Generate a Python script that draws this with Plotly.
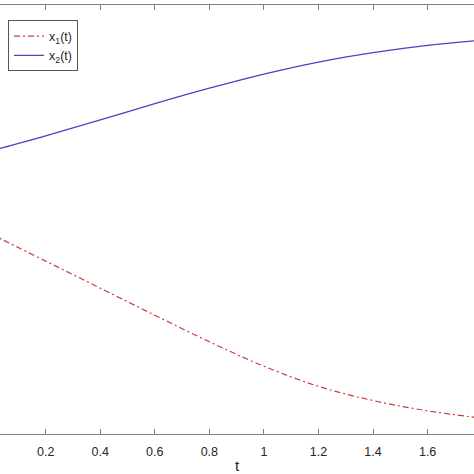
import plotly.graph_objects as go

t = [0.0, 0.2, 0.4, 0.6, 0.8, 1.0, 1.2, 1.4, 1.6, 1.8]
x1 = [0.466, 0.403, 0.340, 0.277, 0.215, 0.158, 0.111, 0.078, 0.054, 0.037]
x2 = [0.660, 0.695, 0.732, 0.770, 0.806, 0.839, 0.867, 0.889, 0.906, 0.918]
xticks = [0.2, 0.4, 0.6, 0.8, 1.0, 1.2, 1.4, 1.6]
xticklabels = ["0.2", "0.4", "0.6", "0.8", "1", "1.2", "1.4", "1.6"]

fig = go.Figure()
fig.add_trace(go.Scatter(x=t, y=x1, mode="lines", name="x<sub>1</sub>(t)",
                         line=dict(color="#cc3b3b", width=1.2, dash="6px,3px,2px,3px",
                                   shape="spline", smoothing=1.0)))
fig.add_trace(go.Scatter(x=t, y=x2, mode="lines", name="x<sub>2</sub>(t)",
                         line=dict(color="#4646c4", width=1.3, shape="spline", smoothing=1.0)))

fig.update_layout(
    width=474, height=474,
    margin=dict(l=0, r=0, t=5, b=40),
    paper_bgcolor="white", plot_bgcolor="white",
    font=dict(family="Liberation Sans, Arial, sans-serif", size=12, color="#262626"),
    showlegend=True,
    legend=dict(x=0.017, y=0.964, xanchor="left", yanchor="top",
                bordercolor="#555555", borderwidth=1, bgcolor="white",
                font=dict(size=12.5), tracegroupgap=0, itemwidth=30),
    xaxis=dict(range=[0.0326, 1.770], tickvals=xticks, ticktext=xticklabels,
               showgrid=False, zeroline=False, showline=True, linecolor="#808080",
               linewidth=1, mirror="ticks", ticks="inside", ticklen=5, tickcolor="#808080",
               ticklabelstandoff=6, tickfont=dict(size=12.5),
               title=dict(text="t", font=dict(size=15), standoff=2)),
    yaxis=dict(range=[0, 1], showgrid=False, zeroline=False, showline=False,
               showticklabels=False, ticks=""),
)

fig.write_html("out.html", config={"displayModeBar": False})

with open("out.html", "r", encoding="utf-8") as f:
    html = f.read()
html = html.replace("<body>", '<body style="margin:0;padding:0;overflow:hidden">', 1)
with open("out.html", "w", encoding="utf-8") as f:
    f.write(html)
